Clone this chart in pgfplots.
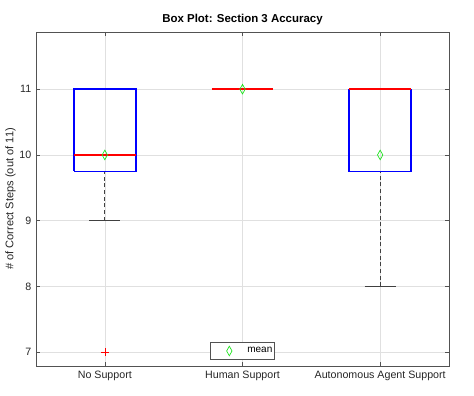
\documentclass[border=0pt]{standalone}
\usepackage{pgfplots}
\pgfplotsset{compat=1.18}
\usepackage{fontspec}
\setmainfont{Liberation Sans}
\definecolor{mgreen}{rgb}{0.1,0.9,0.1}
\definecolor{axgray}{rgb}{0.15,0.15,0.15}
\definecolor{mblue}{RGB}{0,0,255}
\definecolor{mred}{RGB}{255,0,0}
\begin{document}
\begin{tikzpicture}
\begin{axis}[
  name=ax,
  scale only axis,
  width=309.75pt, height=250.5pt,
  xmin=0.5, xmax=3.5, ymin=6.79, ymax=11.87,
  xtick={1,2,3},
  xticklabels={No Support, Human Support, Autonomous Agent Support},
  ytick={7,8,9,10,11},
  grid=major,
  major grid style={draw=black!12, line width=0.4pt},
  axis line style={draw=axgray!80, line width=0.5pt},
  tick style={draw=axgray!80, line width=0.5pt},
  major tick length=3pt,
  tick label style={font=\fontsize{8}{9.5}\selectfont, text=axgray},
  /pgf/number format/assume math mode=true,
  title={\bfseries Box Plot: Section 3 Accuracy},
  title style={font=\fontsize{8.6}{10}\selectfont, yshift=-4pt},
  ylabel={\# of Correct Steps (out of 11)},
  ylabel style={font=\fontsize{8.3}{10}\selectfont, text=axgray, yshift=-4pt},
  legend style={at={(0.5,0.045)}, anchor=center, draw=axgray!80, fill=white,
    font=\fontsize{7.5}{8.5}\selectfont, inner xsep=0pt, inner ysep=2.5pt,
    nodes={inner xsep=1.5pt, inner ysep=1pt}},
  legend image code/.code={%
    \path[draw=none] (-14pt,0) -- (12pt,0);
    \draw[draw=none, mark=diamond, mark size=3.6pt, mark options={draw=mgreen, line width=0.5pt, xscale=0.75}]
      plot coordinates {(0pt,0pt)};
  },
]
% --- No Support: whisker 9, Q1 9.75, median 10, Q3 11, outlier 7
\addplot[forget plot, color=black!75, dash pattern=on 3pt off 2pt, line width=0.6pt, mark=none]
  coordinates {(1,9) (1,9.75)};
\addplot[forget plot, color=black!75, line width=0.6pt, mark=none]
  coordinates {(0.8875,9) (1.1125,9)};
\addplot[forget plot, color=mblue, line width=1.1pt, mark=none]
  coordinates {(0.775,9.75) (1.225,9.75) (1.225,11) (0.775,11) (0.775,9.75)};
\addplot[forget plot, color=mred, line width=1.1pt, mark=none]
  coordinates {(0.775,10) (1.225,10)};
\addplot[forget plot, only marks, mark=+, mark size=3pt, mark options={color=mred, line width=0.5pt}]
  coordinates {(1,7)};
% --- Human Support: all values 11
\addplot[forget plot, color=mred, line width=1.1pt, mark=none]
  coordinates {(1.775,11) (2.225,11)};
% --- Autonomous Agent Support: whisker 8, Q1 9.75, median 11, Q3 11
\addplot[forget plot, color=black!75, dash pattern=on 3pt off 2pt, line width=0.6pt, mark=none]
  coordinates {(3,8) (3,9.75)};
\addplot[forget plot, color=black!75, line width=0.6pt, mark=none]
  coordinates {(2.8875,8) (3.1125,8)};
\addplot[forget plot, color=mblue, line width=1.1pt, mark=none]
  coordinates {(3.225,11) (3.225,9.75) (2.775,9.75) (2.775,11)};
\addplot[forget plot, color=mred, line width=1.1pt, mark=none]
  coordinates {(2.775,11) (3.225,11)};
% --- means
\addplot[only marks, mark=diamond, mark size=3.6pt,
  mark options={draw=mgreen, line width=0.5pt, xscale=0.75}]
  coordinates {(1,10) (2,11) (3,10)};
\addlegendentry{mean}
\end{axis}
\path ([xshift=-27pt,yshift=-21.75pt]ax.south west) rectangle ([xshift=18.75pt,yshift=24pt]ax.north east);
\end{tikzpicture}
\end{document}
